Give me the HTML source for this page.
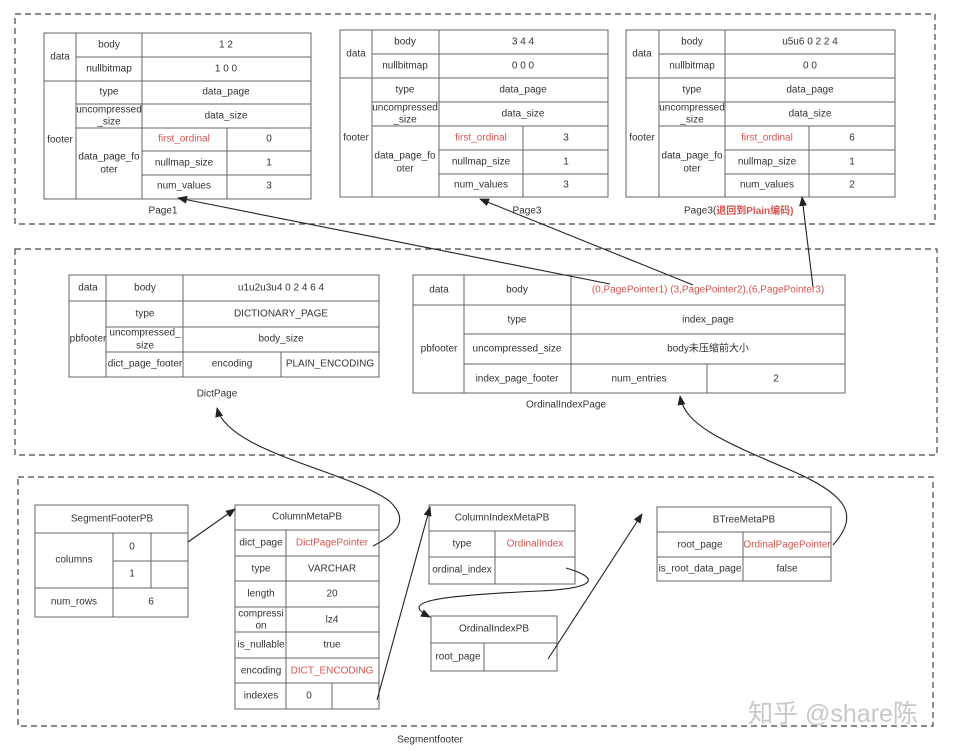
<!DOCTYPE html>
<html><head><meta charset="utf-8"><style>
html,body{margin:0;padding:0;background:#fff;}
svg{display:block;}
text{font-family:"Liberation Sans","Noto Sans CJK SC",sans-serif;font-size:10px;fill:#333;text-anchor:middle;dominant-baseline:central;}
.r{fill:#d9534f;}
.t rect,.t line{stroke:#666;stroke-width:1;fill:none;}
.d{fill:none;stroke:#444;stroke-width:1.2;stroke-dasharray:6,4;}
.a{fill:none;stroke:#222;stroke-width:1.1;marker-end:url(#ah);}
</style></head><body>
<svg width="955" height="753" viewBox="0 0 955 753" xmlns="http://www.w3.org/2000/svg">
<defs><marker id="ah" markerWidth="10" markerHeight="8" refX="9" refY="4" orient="auto" markerUnits="userSpaceOnUse"><path d="M0,0 L10,4 L0,8 z" fill="#222"/></marker></defs>

<rect class="d" x="15" y="14" width="920" height="210"/>
<rect class="d" x="15" y="249" width="922" height="206"/>
<rect class="d" x="18" y="477" width="915" height="249"/>

<!-- Page1 -->
<g class="t">
<rect x="44" y="33" width="267" height="166"/>
<line x1="44" y1="81" x2="311" y2="81"/>
<line x1="76" y1="33" x2="76" y2="199"/><line x1="142" y1="33" x2="142" y2="199"/>
<line x1="76" y1="57" x2="311" y2="57"/><line x1="76" y1="104" x2="311" y2="104"/><line x1="76" y1="128" x2="311" y2="128"/>
<line x1="142" y1="151" x2="311" y2="151"/><line x1="142" y1="175" x2="311" y2="175"/><line x1="227" y1="128" x2="227" y2="199"/>
</g>
<text x="60" y="57">data</text><text x="60" y="140">footer</text>
<text x="109" y="45">body</text><text x="109" y="69">nullbitmap</text><text x="109" y="92">type</text>
<text x="109" y="110">uncompressed</text><text x="109" y="122">_size</text>
<text x="109" y="157">data_page_fo</text><text x="109" y="170">oter</text>
<text x="226" y="45">1 2</text><text x="226" y="69">1 0 0</text><text x="226" y="92">data_page</text><text x="226" y="116">data_size</text>
<text class="r" x="184" y="139">first_ordinal</text><text x="184" y="163">nullmap_size</text><text x="184" y="186">num_values</text>
<text x="269" y="139">0</text><text x="269" y="163">1</text><text x="269" y="186">3</text>
<text x="163" y="211">Page1</text>

<!-- Page2 -->
<g class="t">
<rect x="340" y="30" width="268" height="167"/>
<line x1="340" y1="78" x2="608" y2="78"/>
<line x1="372" y1="30" x2="372" y2="197"/><line x1="439" y1="30" x2="439" y2="197"/>
<line x1="372" y1="54" x2="608" y2="54"/><line x1="372" y1="102" x2="608" y2="102"/><line x1="372" y1="126" x2="608" y2="126"/>
<line x1="439" y1="150" x2="608" y2="150"/><line x1="439" y1="174" x2="608" y2="174"/><line x1="523" y1="126" x2="523" y2="197"/>
</g>
<text x="356" y="54">data</text><text x="356" y="138">footer</text>
<text x="405" y="42">body</text><text x="405" y="66">nullbitmap</text><text x="405" y="90">type</text>
<text x="405" y="108">uncompressed</text><text x="405" y="120">_size</text>
<text x="405" y="156">data_page_fo</text><text x="405" y="169">oter</text>
<text x="523" y="42">3 4 4</text><text x="523" y="66">0 0 0</text><text x="523" y="90">data_page</text><text x="523" y="114">data_size</text>
<text class="r" x="481" y="138">first_ordinal</text><text x="481" y="162">nullmap_size</text><text x="481" y="185">num_values</text>
<text x="566" y="138">3</text><text x="566" y="162">1</text><text x="566" y="185">3</text>
<text x="527" y="211">Page3</text>

<!-- Page3 -->
<g class="t">
<rect x="626" y="30" width="269" height="167"/>
<line x1="626" y1="78" x2="895" y2="78"/>
<line x1="659" y1="30" x2="659" y2="197"/><line x1="725" y1="30" x2="725" y2="197"/>
<line x1="659" y1="54" x2="895" y2="54"/><line x1="659" y1="102" x2="895" y2="102"/><line x1="659" y1="126" x2="895" y2="126"/>
<line x1="725" y1="150" x2="895" y2="150"/><line x1="725" y1="174" x2="895" y2="174"/><line x1="809" y1="126" x2="809" y2="197"/>
</g>
<text x="642" y="54">data</text><text x="642" y="138">footer</text>
<text x="692" y="42">body</text><text x="692" y="66">nullbitmap</text><text x="692" y="90">type</text>
<text x="692" y="108">uncompressed</text><text x="692" y="120">_size</text>
<text x="692" y="156">data_page_fo</text><text x="692" y="169">oter</text>
<text x="810" y="42">u5u6 0 2 2  4</text><text x="810" y="66">0 0</text><text x="810" y="90">data_page</text><text x="810" y="114">data_size</text>
<text class="r" x="767" y="138">first_ordinal</text><text x="767" y="162">nullmap_size</text><text x="767" y="185">num_values</text>
<text x="852" y="138">6</text><text x="852" y="162">1</text><text x="852" y="185">2</text>
<text x="684" y="211" style="text-anchor:start">Page3(<tspan class="r" style="font-weight:bold">退回到Plain编码)</tspan></text>

<!-- DictPage -->
<g class="t">
<rect x="69" y="275" width="310" height="102"/>
<line x1="69" y1="301" x2="379" y2="301"/><line x1="106" y1="275" x2="106" y2="377"/><line x1="183" y1="275" x2="183" y2="377"/>
<line x1="106" y1="327" x2="379" y2="327"/><line x1="106" y1="352" x2="379" y2="352"/><line x1="281" y1="352" x2="281" y2="377"/>
</g>
<text x="88" y="288">data</text><text x="88" y="339">pbfooter</text>
<text x="145" y="288">body</text><text x="145" y="314">type</text>
<text x="145" y="333">uncompressed_</text><text x="145" y="346">size</text><text x="145" y="364">dict_page_footer</text>
<text x="281" y="288">u1u2u3u4 0 2 4 6 4</text><text x="281" y="314">DICTIONARY_PAGE</text><text x="281" y="339">body_size</text>
<text x="232" y="364">encoding</text><text x="330" y="364">PLAIN_ENCODING</text>
<text x="217" y="394">DictPage</text>

<!-- OrdinalIndexPage -->
<g class="t">
<rect x="413" y="275" width="432" height="118"/>
<line x1="413" y1="305" x2="845" y2="305"/><line x1="464" y1="275" x2="464" y2="393"/><line x1="571" y1="275" x2="571" y2="393"/>
<line x1="464" y1="334" x2="845" y2="334"/><line x1="464" y1="364" x2="845" y2="364"/><line x1="707" y1="364" x2="707" y2="393"/>
</g>
<text x="439" y="290">data</text><text x="439" y="349">pbfooter</text>
<text x="517" y="290">body</text><text x="517" y="320">type</text><text x="517" y="349">uncompressed_size</text><text x="517" y="379">index_page_footer</text>
<text class="r" x="708" y="290">(0,PagePointer1) (3,PagePointer2),(6,PagePointer3)</text>
<text x="708" y="320">index_page</text><text x="708" y="349">body未压缩前大小</text>
<text x="639" y="379">num_entries</text><text x="776" y="379">2</text>
<text x="566" y="405">OrdinalIndexPage</text>

<!-- SegmentFooterPB -->
<g class="t">
<rect x="35" y="505" width="153" height="112"/>
<line x1="35" y1="533" x2="188" y2="533"/><line x1="35" y1="588" x2="188" y2="588"/>
<line x1="113" y1="533" x2="113" y2="617"/><line x1="151" y1="533" x2="151" y2="588"/><line x1="113" y1="561" x2="188" y2="561"/>
</g>
<text x="112" y="519">SegmentFooterPB</text><text x="74" y="560">columns</text><text x="74" y="602">num_rows</text>
<text x="132" y="547">0</text><text x="132" y="574">1</text><text x="151" y="602">6</text>

<!-- ColumnMetaPB -->
<g class="t">
<rect x="235" y="505" width="144" height="204"/>
<line x1="235" y1="530" x2="379" y2="530"/><line x1="235" y1="556" x2="379" y2="556"/><line x1="235" y1="581" x2="379" y2="581"/>
<line x1="235" y1="607" x2="379" y2="607"/><line x1="235" y1="632" x2="379" y2="632"/><line x1="235" y1="658" x2="379" y2="658"/><line x1="235" y1="683" x2="379" y2="683"/>
<line x1="286" y1="530" x2="286" y2="709"/><line x1="332" y1="683" x2="332" y2="709"/>
</g>
<text x="307" y="517">ColumnMetaPB</text>
<text x="261" y="543">dict_page</text><text x="261" y="569">type</text><text x="261" y="594">length</text>
<text x="261" y="614">compressi</text><text x="261" y="626">on</text><text x="261" y="645">is_nullable</text><text x="261" y="671">encoding</text><text x="261" y="696">indexes</text>
<text class="r" x="332" y="543">DictPagePointer</text><text x="332" y="569">VARCHAR</text><text x="332" y="594">20</text><text x="332" y="620">lz4</text>
<text x="332" y="645">true</text><text class="r" x="332" y="671">DICT_ENCODING</text><text x="309" y="696">0</text>

<!-- ColumnIndexMetaPB -->
<g class="t">
<rect x="429" y="505" width="146" height="79"/>
<line x1="429" y1="531" x2="575" y2="531"/><line x1="429" y1="557" x2="575" y2="557"/><line x1="495" y1="531" x2="495" y2="584"/>
</g>
<text x="502" y="518">ColumnIndexMetaPB</text><text x="462" y="544">type</text><text x="462" y="570">ordinal_index</text>
<text class="r" x="535" y="544">OrdinalIndex</text>

<!-- OrdinalIndexPB -->
<g class="t">
<rect x="431" y="616" width="126" height="55"/>
<line x1="431" y1="643" x2="557" y2="643"/><line x1="484" y1="643" x2="484" y2="671"/>
</g>
<text x="494" y="629">OrdinalIndexPB</text><text x="458" y="657">root_page</text>

<!-- BTreeMetaPB -->
<g class="t">
<rect x="657" y="507" width="174" height="74"/>
<line x1="657" y1="532" x2="831" y2="532"/><line x1="657" y1="557" x2="831" y2="557"/><line x1="743" y1="532" x2="743" y2="581"/>
</g>
<text x="744" y="520">BTreeMetaPB</text><text x="700" y="545">root_page</text><text x="700" y="569">is_root_data_page</text>
<text class="r" x="787" y="545">OrdinalPagePointer</text><text x="787" y="569">false</text>

<text x="430" y="740">Segmentfooter</text>
<text x="833" y="714" style="font-size:25px;fill:#c8c8c8;">知乎 @share陈</text>

<!-- arrows -->
<path class="a" d="M610,284 L178,198"/>
<path class="a" d="M693,285 L480,199"/>
<path class="a" d="M813,287 L802,197"/>
<path class="a" d="M373,546 C395,535 412,520 388,500 C345,470 228,452 217,408"/>
<path class="a" d="M833,545 C860,515 848,495 790,470 C720,440 685,425 680,396"/>
<path class="a" d="M188,542 L235,509"/>
<path class="a" d="M377,700 L430,507"/>
<path class="a" d="M566,568 C600,578 598,588 540,591 C430,596 400,602 430,617"/>
<path class="a" d="M548,659 L642,514"/>
</svg>
</body></html>
